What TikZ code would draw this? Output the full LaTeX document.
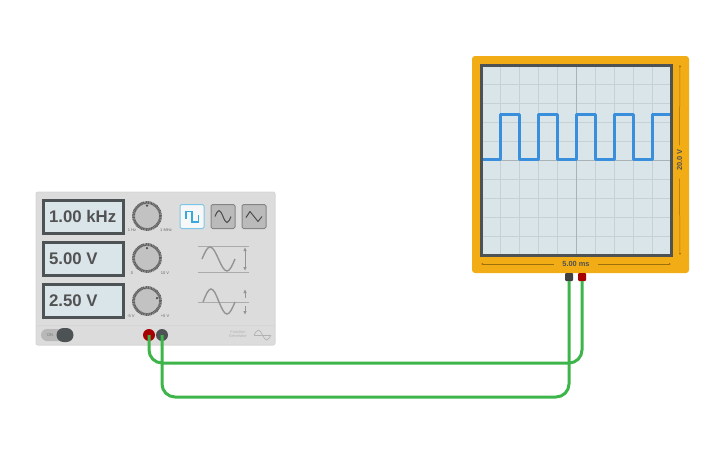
\documentclass[tikz,border=0pt]{standalone}
\usepackage{fontspec}
\setmainfont{Liberation Sans}
\usetikzlibrary{arrows.meta,positioning}
\definecolor{panelgray}{HTML}{DCDCDC}
\definecolor{lcdblue}{HTML}{DAE5EA}
\definecolor{bezel}{HTML}{4D5254}
\definecolor{scopeorange}{HTML}{F2AC16}
\definecolor{tracegreen}{HTML}{3DB54A}
\definecolor{traceblue}{HTML}{3A8FDC}
\definecolor{iconblue}{HTML}{35A9DC}
\definecolor{gridgray}{HTML}{C6D1D5}
\definecolor{axisgray}{HTML}{A9B3B7}

\begin{document}
\begin{tikzpicture}[
  x=1pt, y=1pt, inner sep=0pt, outer sep=0pt,
  lcd/.style={draw=bezel, line width=3pt, fill=lcdblue, minimum width=80pt,
              minimum height=33pt},
  readout/.style={font=\bfseries\fontsize{16.8}{16.8}\selectfont, text=black!68, anchor=west},
  knob/.style={circle, draw=black!62, fill=black!24, line width=2.8pt,
               dash pattern=on 1.1pt off 0.5pt, minimum size=27pt},
  dial/.style={circle, fill=black!70, minimum size=2.5pt},
  tiny/.style={font=\fontsize{4}{4}\selectfont, text=black!60},
  wavebtn/.style={draw=black!48, fill=black!27, line width=1pt, rounded corners=1.5pt,
                  minimum size=24pt},
  wavepick/.style={draw=iconblue!65, fill=black!3, line width=1pt, rounded corners=1.5pt,
                   minimum size=24pt},
  sinewave/.style={black!42, line width=1.4pt},
  guide/.style={black!33, line width=1pt},
  updown/.style={black!42, line width=0.9pt, -{Latex[length=4pt,width=3.5pt]}},
  port/.style={circle, minimum size=12pt},
  probe/.style={minimum width=8pt, minimum height=8pt, rounded corners=1pt},
  wire/.style={tracegreen, line width=3pt, rounded corners=13pt},
  gridline/.style={gridgray, line width=1pt},
  axisline/.style={axisgray, line width=1pt},
  scale mark/.style={black!35!scopeorange, line width=0.5pt},
  scale text/.style={font=\bfseries\fontsize{7.4}{7.4}\selectfont, text=bezel}
]
\useasboundingbox (0,0) rectangle (725,-453);

% function generator
\node[draw=black!16, fill=panelgray, line width=1pt, rounded corners=2pt, minimum width=239pt,
      minimum height=153pt, anchor=north west] (gen) at (36,-192) {};
\draw[black!16, line width=0.8pt] (36,-325) -- (275,-325);

\node[lcd, anchor=north west] (freq) at (43,-200) {};
\node[lcd, below=9pt of freq] (amp) {};
\node[lcd, below=9pt of amp] (offs) {};
\node[readout] at ([xshift=6pt]freq.west) {1.00 kHz};
\node[readout] at ([xshift=6pt]amp.west) {5.00 V};
\node[readout] at ([xshift=6pt]offs.west) {2.50 V};

\node[knob] (kfreq) at (147,-216) {};
\node[knob] (kamp) at (147,-258) {};
\node[knob] (koffs) at (147,-301) {};
\node[dial] at (147,-205.5) {};
\node[dial] at (147,-248) {};
\node[dial] at (157,-298) {};
\node[tiny] at (132,-230) {1 Hz};
\node[tiny] at (166,-230) {1 MHz};
\node[tiny] at (132,-273) {0};
\node[tiny] at (165,-273) {10 V};
\node[tiny] at (131,-316) {-5 V};
\node[tiny] at (165,-316) {+5 V};

\node[wavepick] (bsquare) at (192,-216.5) {};
\node[wavebtn, right=7pt of bsquare] (bsine) {};
\node[wavebtn, right=7pt of bsine] (btri) {};
\draw[iconblue, line width=1.3pt] ([xshift=-6pt,yshift=-2pt]bsquare.center) -- ++(0,7) -- ++(6,0)
  -- ++(0,-10.5) -- ++(6.5,0) -- ++(0,7);
\draw[black!70, line width=1pt] ([xshift=-8pt]bsine.center) sin ++(4,6) cos ++(4,-6) sin ++(4,-6) cos ++(4,6);
\draw[black!70, line width=1pt, line join=round] ([xshift=-8pt,yshift=-1pt]btri.center) -- ++(4,6) -- ++(8,-10) -- ++(4,5);

% amplitude and offset icons
\draw[guide] (198,-246) -- (249,-246);
\draw[guide] (198,-272) -- (249,-272);
\draw[sinewave] (202,-259) sin (210,-247) cos (218.5,-259) sin (227,-271) cos (235,-259);
\draw[updown, {Latex[length=4pt,width=3.5pt]}-{Latex[length=4pt,width=3.5pt]}] (245,-247) -- (245,-271);
\draw[guide] (198,-302) -- (249,-302);
\draw[sinewave] (203,-302) sin (211,-289) cos (219,-302) sin (227,-314) cos (235,-302);
\draw[updown] (245,-298) -- (245,-289);
\draw[updown] (245,-306) -- (245,-315);

% power switch and badge
\node[fill=black!28, rounded corners=6pt, minimum width=32pt, minimum height=12pt] (switch) at (57,-335) {};
\node[fill=bezel, rounded corners=7pt, minimum width=17pt, minimum height=14pt] (switchknob) at (65,-335) {};
\node[tiny, text=black!55] at (50,-335) {ON};
\node[tiny, text=black!30, align=center] at (238,-334) {Function\\Generator};
\draw[black!30, line width=0.7pt] (254,-335) -- (271,-335);
\draw[black!30, line width=0.7pt] (254,-335) sin (258.5,-330) cos (262.5,-335) sin (266.5,-340) cos (271,-335);

\node[port, fill=red!65!black] (genpos) at (149,-335) {};
\node[port, fill=bezel] (genneg) at (162,-335) {};

% oscilloscope
\node[fill=scopeorange, rounded corners=3pt, minimum width=217pt, minimum height=217pt,
      anchor=north west] (scope) at (472,-56) {};
\node[fill=lcdblue, minimum width=190pt, minimum height=190pt,
      anchor=north west] (screen) at (481,-65) {};
\foreach \i in {1,...,9} {
  \draw[gridline] (481+19*\i,-65) -- (481+19*\i,-255);
  \draw[gridline] (481,-65-19*\i) -- (671,-65-19*\i);
}
\draw[axisline] (576,-65) -- (576,-255);
\draw[axisline] (481,-160) -- (671,-160);
\draw[traceblue, line width=3pt, line join=round] (481,-159)
  -- (500,-159) -- (500,-114.5) -- (519,-114.5) -- (519,-159)
  -- (538,-159) -- (538,-114.5) -- (557,-114.5) -- (557,-159)
  -- (576,-159) -- (576,-114.5) -- (595,-114.5) -- (595,-159)
  -- (614,-159) -- (614,-114.5) -- (633,-114.5) -- (633,-159)
  -- (652,-159) -- (652,-114.5) -- (671,-114.5);
\node[draw=bezel, line width=3pt, minimum width=190pt, minimum height=190pt,
      anchor=north west] (screenframe) at (481,-65) {};

\node[scale text] (timelabel) at (576,-264) {5.00 ms};
\node[scale text, rotate=90] (voltlabel) at (679.5,-160) {20.0 V};
\draw[scale mark, {Latex[length=2pt,width=2pt]}-] (481,-264) -- ([xshift=-8pt]timelabel.west);
\draw[scale mark, -{Latex[length=2pt,width=2pt]}] ([xshift=8pt]timelabel.east) -- (671,-264);
\draw[scale mark, -{Latex[length=2pt,width=2pt]}] ([yshift=4pt]voltlabel.east) -- (680,-65);
\draw[scale mark, -{Latex[length=2pt,width=2pt]}] ([yshift=-8pt]voltlabel.west) -- (680,-255);

\node[probe, fill=black!75] (scopeneg) at (569,-277) {};
\node[probe, fill=red!65!black] (scopepos) at (582,-277) {};

% leads
\coordinate (lowrun) at (400,-397);
\coordinate (highrun) at (400,-363);
\draw[wire] (genneg.center) |- (lowrun) -| (scopeneg.south);
\draw[wire] (genpos.center) |- (highrun) -| (scopepos.south);
\end{tikzpicture}
\end{document}
